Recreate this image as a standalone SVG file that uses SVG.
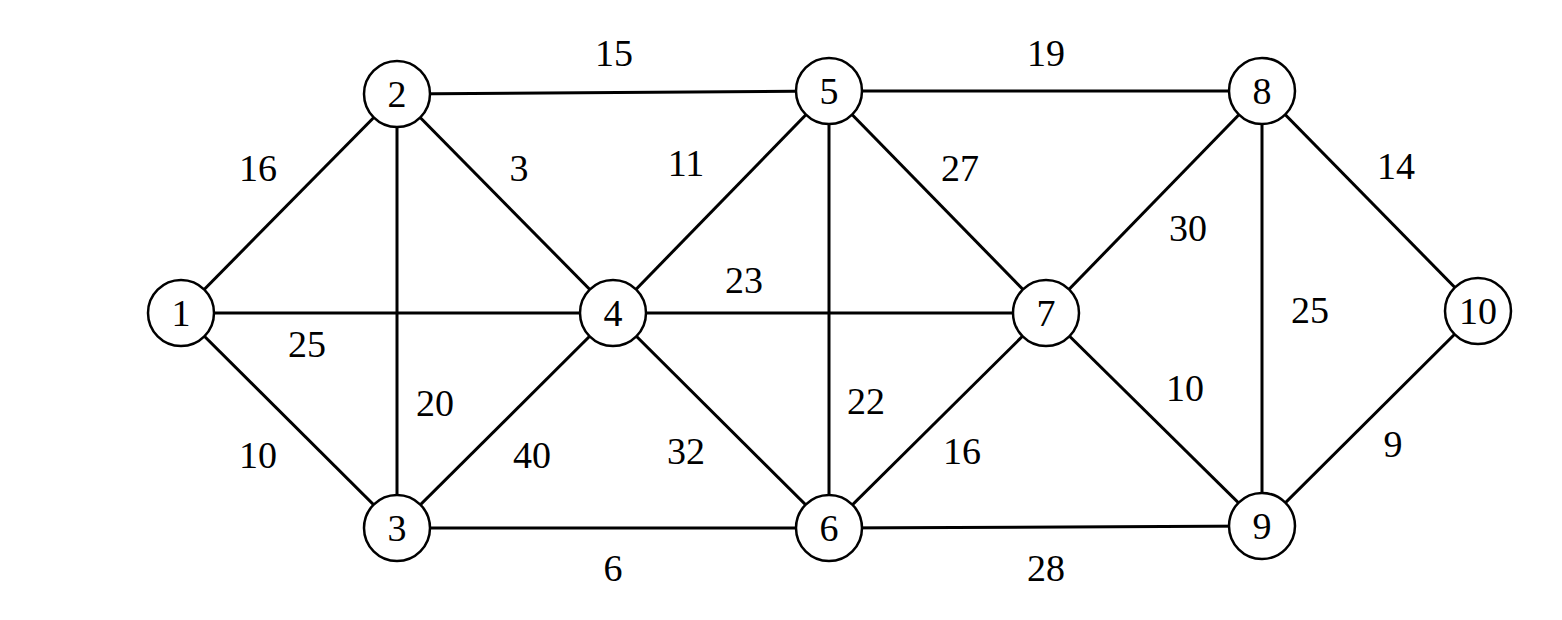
<svg xmlns="http://www.w3.org/2000/svg" width="1562" height="620" viewBox="0 0 1562 620">
<style>
.e{stroke:#000;stroke-width:3;fill:none}
.n circle{fill:#fff;stroke:#000;stroke-width:2.5}
text{font-family:"Liberation Serif",serif;font-size:38px;text-anchor:middle;dominant-baseline:central;fill:#000}
</style>
<rect width="1562" height="620" fill="#fff"/>
<g id="connectors" class="e">
<line x1="181" y1="313" x2="397" y2="94"/>
<line x1="181" y1="313" x2="613" y2="313"/>
<line x1="181" y1="313" x2="397" y2="528"/>
<line x1="397" y1="94" x2="829" y2="91"/>
<line x1="397" y1="94" x2="397" y2="528"/>
<line x1="397" y1="94" x2="613" y2="313"/>
<line x1="397" y1="528" x2="613" y2="313"/>
<line x1="397" y1="528" x2="829" y2="528"/>
<line x1="613" y1="313" x2="829" y2="91"/>
<line x1="613" y1="313" x2="1046" y2="313"/>
<line x1="613" y1="313" x2="829" y2="528"/>
<line x1="829" y1="91" x2="829" y2="528"/>
<line x1="829" y1="91" x2="1046" y2="313"/>
<line x1="829" y1="91" x2="1262" y2="91"/>
<line x1="829" y1="528" x2="1046" y2="313"/>
<line x1="829" y1="528" x2="1262" y2="526"/>
<line x1="1046" y1="313" x2="1262" y2="91"/>
<line x1="1046" y1="313" x2="1262" y2="526"/>
<line x1="1262" y1="91" x2="1262" y2="526"/>
<line x1="1262" y1="91" x2="1478" y2="311"/>
<line x1="1262" y1="526" x2="1478" y2="311"/>
</g>
<g id="labels">
<text x="614" y="53">15</text><text x="1046" y="53">19</text>
<text x="258" y="168">16</text><text x="519" y="168">3</text>
<text x="686" y="163">11</text><text x="960" y="168">27</text>
<text x="1396" y="166">14</text><text x="1188" y="228">30</text>
<text x="744" y="280">23</text><text x="307" y="344">25</text>
<text x="1310" y="310">25</text><text x="435" y="403">20</text>
<text x="866" y="401">22</text><text x="1185" y="388">10</text>
<text x="258" y="455">10</text><text x="532" y="455">40</text>
<text x="686" y="451">32</text><text x="962" y="451">16</text>
<text x="1393" y="444">9</text><text x="613" y="568">6</text>
<text x="1046" y="568">28</text>
</g>
<g id="n1" class="n"><circle cx="181" cy="313" r="33"/><text x="181" y="313">1</text></g>
<g id="n2" class="n"><circle cx="397" cy="94" r="33"/><text x="397" y="94">2</text></g>
<g id="n3" class="n"><circle cx="397" cy="528" r="33"/><text x="397" y="528">3</text></g>
<g id="n4" class="n"><circle cx="613" cy="313" r="33"/><text x="613" y="313">4</text></g>
<g id="n5" class="n"><circle cx="829" cy="91" r="33"/><text x="829" y="91">5</text></g>
<g id="n6" class="n"><circle cx="829" cy="528" r="33"/><text x="829" y="528">6</text></g>
<g id="n7" class="n"><circle cx="1046" cy="313" r="33"/><text x="1046" y="313">7</text></g>
<g id="n8" class="n"><circle cx="1262" cy="91" r="33"/><text x="1262" y="91">8</text></g>
<g id="n9" class="n"><circle cx="1262" cy="526" r="33"/><text x="1262" y="526">9</text></g>
<g id="n10" class="n"><circle cx="1478" cy="311" r="33"/><text x="1478" y="311">10</text></g>
</svg>
